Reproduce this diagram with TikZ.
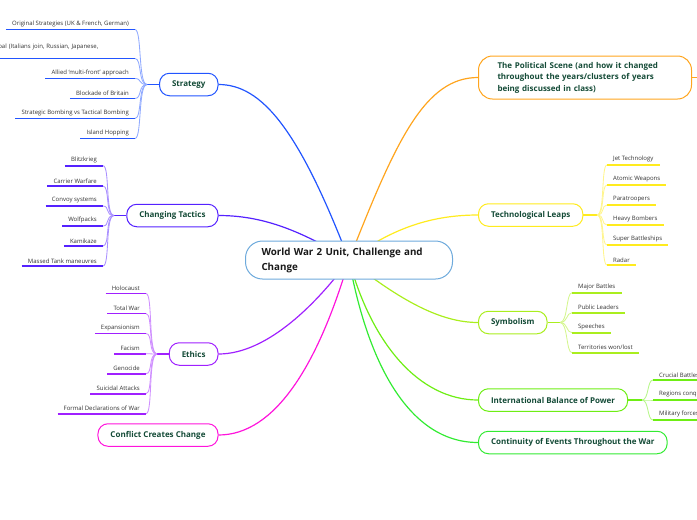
\documentclass[tikz,border=0pt]{standalone}
\usepackage{fontspec}
\setmainfont{Open Sans}
\usetikzlibrary{calc}
\pgfdeclarelayer{bg}
\pgfsetlayers{bg,main}
\definecolor{cStrat}{RGB}{34,85,255}
\definecolor{cTact}{RGB}{85,34,255}
\definecolor{cEth}{RGB}{160,32,255}
\definecolor{cConf}{RGB}{255,20,220}
\definecolor{cPol}{RGB}{255,165,30}
\definecolor{cTech}{RGB}{255,235,30}
\definecolor{cSym}{RGB}{170,238,30}
\definecolor{cIntl}{RGB}{110,238,20}
\definecolor{cCont}{RGB}{50,235,50}
\definecolor{cCenter}{RGB}{110,170,220}
\definecolor{topictext}{RGB}{20,75,55}
\definecolor{childtext}{RGB}{50,50,50}
\tikzset{
  topic/.style={draw=#1, line width=1pt, rounded corners=10pt, fill=white,
    font=\fontsize{8}{11.5}\selectfont\bfseries, text=topictext,
    inner xsep=12.5pt, minimum height=22.5pt},
  lchild/.style={anchor=south east, font=\fontsize{6}{7.2}\selectfont, text=childtext,
    inner xsep=6pt, inner ysep=2.5pt},
  rchild/.style={anchor=south west, font=\fontsize{6}{7.2}\selectfont, text=childtext,
    inner xsep=6pt, inner ysep=2.5pt},
  ul/.style={draw=#1, line width=1.6pt},
  ccurve/.style={draw=#1!50, line width=0.85pt},
  mainlink/.style={draw=#1, line width=1.2pt},
}
\begin{document}
\begin{tikzpicture}[x=1pt,y=-1pt]
\useasboundingbox (0,0) rectangle (697,520);

% central topic
\node[draw=cCenter, line width=1pt, rounded corners=17pt, fill=white, text=black!90,
  font=\fontsize{9.8}{15}\selectfont\bfseries, align=left, text width=175pt,
  inner xsep=16pt, minimum height=38pt, anchor=west] (center) at (245,260)
  {World War 2 Unit, Challenge and\\Change};

% main topics
\node[topic=cStrat, anchor=east] (strat) at (218.5,84.5) {Strategy};
\node[topic=cTact, anchor=east] (tact) at (218.5,215.5) {Changing Tactics};
\node[topic=cEth, anchor=east] (eth) at (218.5,354) {Ethics};
\node[topic=cConf, anchor=east] (conf) at (218.5,435) {Conflict Creates Change};
\node[topic=cPol, anchor=west, align=left, text width=175pt, inner xsep=19pt,
  minimum height=43pt, rounded corners=14pt] (pol) at (478,77.5)
  {The Political Scene (and how it changed\\throughout the years/clusters of years\\being discussed in class)};
\node[topic=cTech, anchor=west] (tech) at (478,215) {Technological Leaps};
\node[topic=cSym, anchor=west] (sym) at (478,322.5) {Symbolism};
\node[topic=cIntl, anchor=west] (intl) at (478,400) {International Balance of Power};
\node[topic=cCont, anchor=west] (cont) at (478,442.5) {Continuity of Events Throughout the War};

% junctions
\coordinate (sj) at (147,84.5);
\coordinate (tj) at (114,215.5);
\coordinate (ej) at (157,354);
\coordinate (pj) at (710,77.5);
\coordinate (tcj) at (597,215);
\coordinate (syj) at (560,322.5);
\coordinate (ij) at (642,400);

% Strategy children
\node[lchild] (s1) at (135,29.5) {Original Strategies (UK \& French, German)};
\node[lchild, align=left, text width=140pt] (s2) at (135,58.5) {Global (Italians join, Russian, Japanese,\\\mbox{}};
\node[lchild] (s3) at (135,78.5) {Allied `multi-front' approach};
\node[lchild] (s4) at (135,98.5) {Blockade of Britain};
\node[lchild] (s5) at (135,118.5) {Strategic Bombing vs Tactical Bombing};
\node[lchild] (s6) at (135,138.5) {Island Hopping};

% Tactics children
\node[lchild] (t1) at (103,165.7) {Blitzkrieg};
\node[lchild] (t2) at (103,186) {Carrier Warfare};
\node[lchild] (t3) at (103,206) {Convoy systems};
\node[lchild] (t4) at (103,226) {Wolfpacks};
\node[lchild] (t5) at (103,246) {Kamikaze};
\node[lchild] (t6) at (103,266) {Massed Tank maneuvres};

% Ethics children
\node[lchild] (e1) at (146,293.5) {Holocaust};
\node[lchild] (e2) at (146,313.5) {Total War};
\node[lchild] (e3) at (146,333.5) {Expansionism};
\node[lchild] (e4) at (146,353.7) {Facism};
\node[lchild] (e5) at (146,373.7) {Genocide};
\node[lchild] (e6) at (146,393.7) {Suicidal Attacks};
\node[lchild] (e7) at (146,413.7) {Formal Declarations of War};

% Tech children
\node[rchild] (k1) at (607,165) {Jet Technology};
\node[rchild] (k2) at (607,185) {Atomic Weapons};
\node[rchild] (k3) at (607,205) {Paratroopers};
\node[rchild] (k4) at (607,225) {Heavy Bombers};
\node[rchild] (k5) at (607,245) {Super Battleships};
\node[rchild] (k6) at (607,265) {Radar};

% Symbolism children
\node[rchild] (y1) at (572,292.7) {Major Battles};
\node[rchild] (y2) at (572,312.7) {Public Leaders};
\node[rchild] (y3) at (572,332.7) {Speeches};
\node[rchild] (y4) at (572,352.7) {Territories won/lost};

% Intl children
\node[rchild] (i1) at (653,380) {Crucial Battles};
\node[rchild] (i2) at (653,400) {Regions conquered};
\node[rchild] (i3) at (653,420) {Military forces};

\begin{pgfonlayer}{bg}
% main links from the central topic
\draw[mainlink=cStrat] (center.center) .. controls (299,130) and (262,84.5) .. (strat.east);
\draw[mainlink=cTact] (center.center) .. controls (300,230) and (262,215.5) .. (tact.east);
\draw[mainlink=cEth] (center.center) .. controls (318,302) and (268,354) .. (eth.east);
\draw[mainlink=cConf] (center.center) .. controls (318,365) and (275,435) .. (conf.east);
\draw[mainlink=cPol] (center.center) .. controls (396,140) and (425,77.5) .. (pol.west);
\draw[mainlink=cTech] (center.center) .. controls (392,228) and (432,215) .. (tech.west);
\draw[mainlink=cSym] (center.center) .. controls (400,300) and (440,322.5) .. (sym.west);
\draw[mainlink=cIntl] (center.center) .. controls (372,345) and (420,400) .. (intl.west);
\draw[mainlink=cCont] (center.center) .. controls (368,365) and (410,442.5) .. (cont.west);

% topic to junction
\draw[mainlink=cStrat] (strat.west) -- (sj);
\draw[mainlink=cTact] (tact.west) -- (tj);
\draw[mainlink=cEth] (eth.west) -- (ej);
\draw[mainlink=cPol] (pol.east) -- (pj);
\draw[mainlink=cTech] (tech.east) -- (tcj);
\draw[mainlink=cSym] (sym.east) -- (syj);
\draw[mainlink=cIntl] (intl.east) -- (ij);

% curves to children (left side)
\foreach \n in {s1,s2,s3,s4,s5,s6}
  \draw[ccurve=cStrat] (sj) .. controls ($(sj)+(-9,0)$) and ($(\n.south east)+(7,0)$) .. (\n.south east);
\foreach \n in {t1,t2,t3,t4,t5,t6}
  \draw[ccurve=cTact] (tj) .. controls ($(tj)+(-9,0)$) and ($(\n.south east)+(7,0)$) .. (\n.south east);
\foreach \n in {e1,e2,e3,e4,e5,e6,e7}
  \draw[ccurve=cEth] (ej) .. controls ($(ej)+(-9,0)$) and ($(\n.south east)+(7,0)$) .. (\n.south east);
% curves to children (right side)
\foreach \n in {k1,k2,k3,k4,k5,k6}
  \draw[ccurve=cTech] (tcj) .. controls ($(tcj)+(8,0)$) and ($(\n.south west)+(-6,0)$) .. (\n.south west);
\foreach \n in {y1,y2,y3,y4}
  \draw[ccurve=cSym] (syj) .. controls ($(syj)+(8,0)$) and ($(\n.south west)+(-6,0)$) .. (\n.south west);
\foreach \n in {i1,i2,i3}
  \draw[ccurve=cIntl] (ij) .. controls ($(ij)+(7,0)$) and ($(\n.south west)+(-6,0)$) .. (\n.south west);
\end{pgfonlayer}

% underlines
\foreach \n in {s1,s2,s3,s4,s5,s6} \draw[ul=cStrat] (\n.south west) -- (\n.south east);
\foreach \n in {t1,t2,t3,t4,t5,t6} \draw[ul=cTact] (\n.south west) -- (\n.south east);
\foreach \n in {e1,e2,e3,e4,e5,e6,e7} \draw[ul=cEth] (\n.south west) -- (\n.south east);
\foreach \n in {k1,k2,k3,k4,k5,k6} \draw[ul=cTech] (\n.south west) -- (\n.south east);
\foreach \n in {y1,y2,y3,y4} \draw[ul=cSym] (\n.south west) -- (\n.south east);
\foreach \n in {i1,i2,i3} \draw[ul=cIntl] (\n.south west) -- (\n.south east);
\end{tikzpicture}
\end{document}
